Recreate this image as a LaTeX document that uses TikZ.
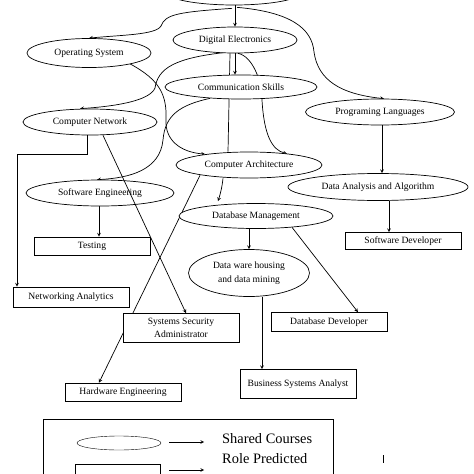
\documentclass[tikz,border=0pt]{standalone}
\usepackage{fontspec}
\setmainfont{Liberation Serif}
\usetikzlibrary{arrows, shapes.geometric, backgrounds}

\begin{document}
\begin{tikzpicture}[x=1pt,y=-1pt,>=stealth,line width=0.7pt]
		\tikzstyle{course}=[draw,ellipse,fill=white,inner sep=0pt,minimum height=26pt,font=\fontsize{9.6}{14}\selectfont,align=center]
		\tikzstyle{role}=[draw,rectangle,fill=white,inner sep=0pt,minimum width=116pt,minimum height=19pt,font=\fontsize{9.6}{13}\selectfont,align=center]
		\tikzstyle{link}=[->,line width=0.7pt]
		
		\useasboundingbox (0,0) rectangle (474,474);
		\clip (0,0) rectangle (474,474);
		
		\node[course,minimum width=136pt] (top) at (234,-8) {};
		\node[course,minimum width=124pt] (de) at (235,40) {Digital Electronics};
		\node[course,minimum width=124pt,minimum height=29pt] (os) at (89,53) {Operating System};
		\node[course,minimum width=152pt,minimum height=24pt] (cs) at (241,87) {Communication Skills};
		\node[course,minimum width=149pt] (pl) at (380,112) {Programing Languages};
		\node[course,minimum width=134pt] (cn) at (90,122) {Computer Network};
		\node[course,minimum width=146pt] (ca) at (249,165) {Computer Architecture};
		\node[course,minimum width=180pt,minimum height=27pt] (daa) at (378,187) {Data Analysis and Algorithm};
		\node[course,minimum width=148pt] (se) at (100,193) {Software Engineering};
		\node[course,minimum width=154pt,minimum height=25pt] (dbm) at (256,216) {Database Management};
		\node[course,minimum width=121pt,minimum height=47pt] (dw) at (249,273) {Data ware housing\\and data mining};
		
		\node[role,minimum height=18pt] (test) at (92,246) {Testing};
		\node[role,minimum height=17pt] (sd) at (403,241) {Software Developer};
		\node[role,minimum height=20pt] (na) at (71,297) {Networking Analytics};
		\node[role,minimum height=29pt] (ssa) at (181,328) {Systems Security\\Administrator};
		\node[role] (dd) at (329,322) {Database Developer};
		\node[role,minimum height=18pt] (he) at (123,392) {Hardware Engineering};
		\node[role,minimum height=29pt] (bsa) at (298,384) {Business Systems Analyst};
		
		\begin{pgfonlayer}{background}
		\draw[link] ([xshift=1pt]top.south) -- (de.north);
		\draw[link] ([xshift=3pt,yshift=-2pt]top.south) .. controls (290,12) and (312,28) .. (314,52) .. controls (318,80) and (340,94) .. ([xshift=4pt]pl.north);
		\draw[link] ([xshift=-2pt,yshift=-3pt]top.south) .. controls (180,12) and (165,14) .. (161,26) .. controls (156,35) and (120,35) .. (os.north);
		
		\draw[link] (de.south) -- ([xshift=-6pt]cs.north);
		\draw[link,-] ([xshift=-5pt]de.south) -- ([xshift=-21pt]ca.north);
		\draw[link] ([xshift=3pt]de.south) .. controls (252,56) and (262,80) .. (262,100) .. controls (264,135) and (272,150) .. ([xshift=38pt,yshift=-2pt]ca.north);
		\draw[link] ([xshift=-9pt,yshift=1pt]de.south) .. controls (175,58) and (158,68) .. (155,88) .. controls (150,100) and (120,106) .. ([xshift=-10pt]cn.north);
		
		\draw[link] ([xshift=41pt,yshift=4pt]os.south) .. controls (160,80) and (167,95) .. (166,120) .. controls (165,140) and (180,152) .. ([xshift=-44pt,yshift=-2.5pt]ca.north);
		\draw[link] ([xshift=-31pt,yshift=1pt]cs.south) .. controls (180,105) and (165,115) .. (163,140) .. controls (160,170) and (130,178) .. ([xshift=-3pt]se.north);
		
		\draw[link] ([xshift=-3pt]cn.south) -- ++(0,19) -| ([xshift=-54pt]na.north);
		\draw[link] ([xshift=-1pt]se.south) -- ([xshift=7pt]test.north);
		\draw[link] ([xshift=2pt]pl.south) -- ([xshift=4pt]daa.north);
		\draw[link] ([xshift=11pt]daa.south) -- ([xshift=-14pt]sd.north);
		
		\draw[link] ([xshift=-26pt]ca.south) .. controls (222,188) and (220,195) .. ([xshift=-38pt,yshift=2pt]dbm.north);
		\draw[link] ([xshift=-49pt,yshift=3pt]ca.south) -- ([xshift=-24pt]he.north);
		\draw[link] (dw.north |- dbm.south) -- (dw.north);
		\draw[link] ([xshift=36pt,yshift=1.5pt]dbm.south) -- ([xshift=29pt]dd.north);
		\draw[link] ([xshift=13pt]dw.south) -- ([xshift=-36pt]bsa.north);
		\end{pgfonlayer}
		\draw[link] ([xshift=13pt]cn.south) -- ([xshift=5pt]ssa.north);
		
		% legend
		\draw (43,419) rectangle (333,490);
		\node[course,minimum width=84pt,minimum height=14pt] (lgc) at (119,443) {};
		\node[role,minimum width=85pt,minimum height=22pt] (lgr) at (117.5,475) {};
		\draw[link] ([xshift=8pt,yshift=1pt]lgc.east) -- ++(35,0);
		\draw[link] ([xshift=9pt,yshift=5pt]lgr.east) -- ++(35,0);
		\node[anchor=base west,inner sep=0pt,font=\fontsize{14.4}{16}\selectfont] (shared) at (222,443) {Shared Courses};
		\node[anchor=base west,inner sep=0pt,font=\fontsize{14.4}{16}\selectfont] (predicted) at (222,463) {Role Predicted};
		\draw (383,455) -- (383,463);
		
	\end{tikzpicture}
\end{document}
